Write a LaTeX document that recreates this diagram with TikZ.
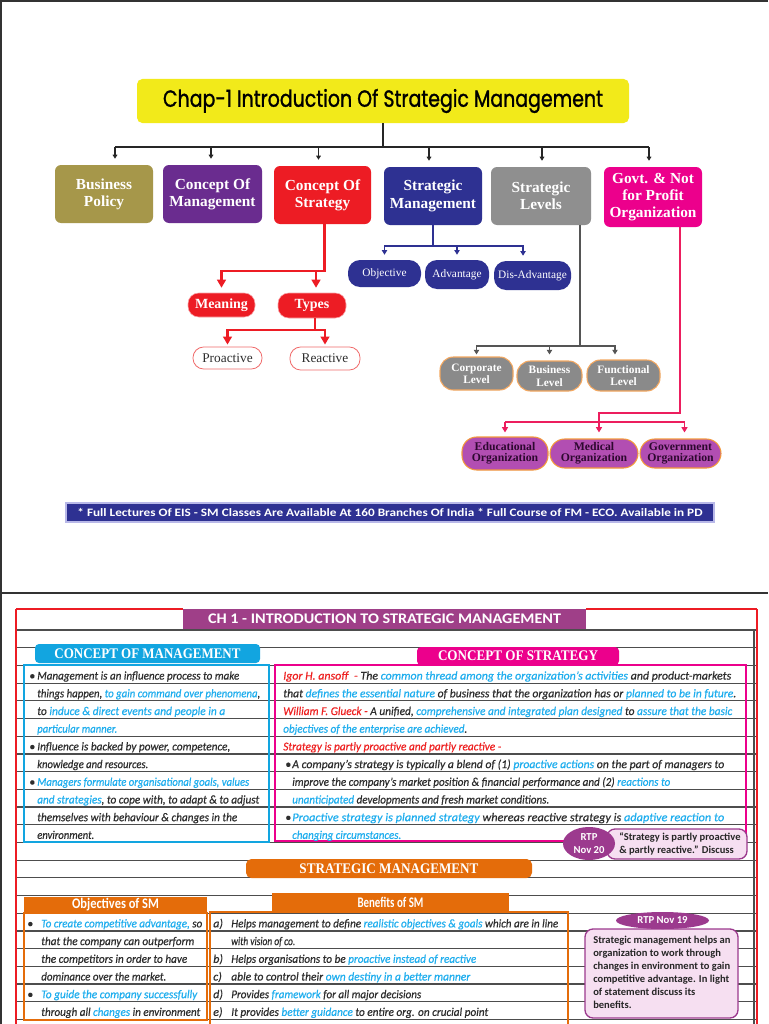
\documentclass[tikz,border=0pt]{standalone}
\usepackage{fontspec}
\usepackage{graphicx}
\usetikzlibrary{arrows.meta,shapes.geometric}
\setmainfont{Liberation Serif}
\newfontfamily\carl{Carlito}
\newfontfamily\carlh{Carlito}[FakeBold=0.6]
\newfontfamily\popf{Poppins}[FakeBold=1.3]
\newlength\pxu \setlength\pxu{0.75pt}
\newcounter{hlc}
\definecolor{cTitle}{HTML}{F2EA1A}
\definecolor{cOlive}{HTML}{A6974A}
\definecolor{cPurp}{HTML}{6A2C8F}
\definecolor{cRed}{HTML}{ED1C24}
\definecolor{cRedL}{HTML}{F06A6A}
\definecolor{cNavy}{HTML}{2E3192}
\definecolor{cGray}{HTML}{8F8F8F}
\definecolor{cGray2}{HTML}{8A8A8A}
\definecolor{cLvB}{HTML}{F4A860}
\definecolor{cMag}{HTML}{EC008C}
\definecolor{cOrg}{HTML}{B24EB2}
\definecolor{cOrgB}{HTML}{F39A3C}
\definecolor{cOrgT}{HTML}{2E0830}
\definecolor{cLine}{HTML}{555555}
\definecolor{cPink}{HTML}{EC1E5E}
\definecolor{cLav}{HTML}{B8B8E8}
\definecolor{cFrame}{HTML}{333333}
\definecolor{cHead}{HTML}{9F3F88}
\definecolor{cCyan}{HTML}{12A5E0}
\definecolor{cOr}{HTML}{E46C0A}
\definecolor{cRtp}{HTML}{9C3A8E}
\definecolor{cRtpF}{HTML}{F6DFF1}
\definecolor{tBlue}{HTML}{1FAEEE}
\definecolor{tRed}{HTML}{EE2222}
\definecolor{tDark}{HTML}{2E2E2E}
\definecolor{cRule}{HTML}{4D4D4D}
\newcommand\hwf{\carlh\itshape\fontsize{8.9}{10}\selectfont}
\newcommand\cB[1]{\textcolor{tBlue}{#1}}
\newcommand\cR[1]{\textcolor{tRed}{#1}}
\newcommand\pbx[7]{\node[#6, minimum width={(#4-#2)*0.75pt}, minimum height={(#5-#3)*0.75pt}] (#1) at ({(#2+#4)/2},{(#3+#5)/2}) {#7};}
\newcommand\hwl[4]{\stepcounter{hlc}\node[anchor=base west, inner sep=0pt, font=\hwf, text=tDark] (hl\arabic{hlc}) at (#1,{630+17.7*#2-3.5}) {\resizebox{#3\pxu}{\height}{#4}};}
\newcommand\htx[3]{\stepcounter{hlc}\node[anchor=base west, inner sep=0pt, font=\hwf, text=tDark] (hl\arabic{hlc}) at (#1,{630+17.7*#2-3.5}) {#3};}
\begin{document}
\begin{tikzpicture}[x=0.75pt,y=-0.75pt,
 rowbox/.style={rounded corners=4.5pt, inner sep=0pt, align=center, text=white, font=\fontsize{11.5}{13}\selectfont\bfseries},
 titlebox/.style={rounded corners=4pt, fill=cTitle, inner sep=0pt},
 navpill/.style={rounded corners=9pt, fill=cNavy, text=white, inner sep=0pt, font=\fontsize{8.5}{10}\selectfont},
 redpill/.style={rounded corners=8pt, fill=cRed, draw=cRed!40, text=white, inner sep=0pt, font=\fontsize{10.5}{12}\selectfont\bfseries},
 wpill/.style={rounded corners=8pt, fill=white, draw=cRedL, line width=0.6pt, text=tDark, inner sep=0pt, font=\fontsize{10}{12}\selectfont},
 lvpill/.style={rounded corners=10pt, fill=cGray2, draw=cLvB, line width=0.8pt, text=white, inner sep=0pt, align=center, font=\fontsize{8.5}{9.2}\selectfont\bfseries},
 orgpill/.style={rounded corners=11pt, fill=cOrg, draw=cOrgB, line width=0.8pt, text=cOrgT, inner sep=0pt, align=center, font=\fontsize{8.8}{8}\selectfont\bfseries},
 blk/.style={line width=1.2pt, draw=black!85},
 blkA/.style={blk, -{Triangle[width=3.5pt,length=3pt]}},
 redl/.style={line width=2pt, draw=cRed},
 redA/.style={redl, -{Triangle[width=6.5pt,length=6pt]}},
 navl/.style={line width=1.3pt, draw=cNavy},
 navA/.style={navl, -{Triangle[width=4pt,length=3.5pt]}},
 grl/.style={line width=1pt, draw=cLine},
 grA/.style={grl, -{Triangle[width=4pt,length=3.5pt]}},
 pkl/.style={line width=2pt, draw=cPink},
 pkt/.style={line width=1pt, draw=cPink},
 pkA/.style={pkt, -{Triangle[width=4.5pt,length=4pt]}},
 frame/.style={line width=1.6pt, draw=cFrame},
 rule/.style={line width=0.9pt, draw=cRule},
 tab/.style={rounded corners=3pt, inner sep=0pt, text=white, font=\fontsize{11}{12}\selectfont\bfseries},
 hdr/.style={inner sep=0pt, text=white, font=\carl\fontsize{10}{12}\selectfont\bfseries},
 rtpbox/.style={rounded corners=6pt, fill=cRtpF, draw=cRtp, line width=1pt, inner sep=0pt},
 rtpell/.style={ellipse, fill=cRtp, text=white, inner sep=0pt, align=center, font=\carl\fontsize{8}{9.5}\selectfont\bfseries},
 rtptxt/.style={inner sep=0pt, align=left, text=black!85, font=\carl\fontsize{7.9}{9.75}\selectfont\bfseries}
]
\useasboundingbox (0,0) rectangle (768,1024);
\clip (0,0) rectangle (768,1024);
\fill[white] (0,0) rectangle (768,1024);

% ---------- top page frame ----------
\draw[frame] (1,0) -- (1,1024);
\draw[frame] (0,1) -- (768,1);
\draw[frame, line width=2pt] (0,593) -- (768,593);

% ---------- top mind map ----------
\pbx{T}{137}{79}{629}{123}{titlebox}{\resizebox{440\pxu}{\height}{\popf\fontsize{17.5}{20}\selectfont Chap-1 Introduction Of Strategic Management}}

\pbx{bp}{55}{165}{153}{223}{rowbox, fill=cOlive}{Business\\Policy}
\pbx{cm}{163}{165}{262}{223}{rowbox, fill=cPurp}{Concept Of\\Management}
\pbx{cs}{274}{166}{371}{224}{rowbox, fill=cRed}{Concept Of\\Strategy}
\pbx{sm}{384}{167}{482}{225}{rowbox, fill=cNavy}{Strategic\\Management}
\pbx{sl}{491}{167}{591}{225}{rowbox, fill=cGray}{Strategic\\Levels}
\pbx{gv}{604}{167}{702}{227}{rowbox, fill=cMag}{Govt. \& Not\\for Profit\\Organization}

\pbx{mn}{188}{293}{255}{317}{redpill}{Meaning}
\pbx{ty}{278}{293}{346}{318}{redpill}{Types}
\pbx{pr}{193}{347}{262}{369}{wpill}{Proactive}
\pbx{re}{290}{347}{360}{370}{wpill}{Reactive}
\pbx{ob}{348}{260}{421}{287}{navpill}{Objective}
\pbx{ad}{425}{260}{489}{289}{navpill}{Advantage}
\pbx{da}{494}{261}{571}{290}{navpill}{Dis-Advantage}
\pbx{co}{440}{357}{513}{390}{lvpill}{Corporate\\Level}
\pbx{bu}{517}{361}{582}{391}{lvpill}{Business\\Level}
\pbx{fu}{587}{360}{660}{391}{lvpill}{Functional\\Level}
\pbx{ed}{462}{437}{548}{470}{orgpill}{Educational\\Organization}
\pbx{me}{550}{439}{638}{468}{orgpill}{Medical\\Organization}
\pbx{go}{640}{439}{721}{468}{orgpill}{Government\\Organization}

% title connectors
\coordinate (bar) at (384,147);
\coordinate (barL) at (115,147);
\coordinate (barR) at (649,147);
\draw[blk] (T.south) -- (T.south |- bar);
\draw[blk] (barL) -- (barR);
\foreach \n/\dx in {bp/11,cm/-1.5,cs/-4,sm/-4,sl/1,gv/-4}{
  \coordinate (\n-a) at ([xshift=\dx*0.75pt]\n.north);
  \draw[blkA] (\n-a |- bar) -- ([yshift=4.5pt]\n-a);
}
% concept of strategy
\coordinate (cs-b) at ([xshift=1.5pt]cs.south);
\coordinate (rbar) at (0,271);
\coordinate (ty-a) at ([xshift=3pt]ty.north);
\draw[redA] (cs-b) -- (cs-b |- rbar) -- (mn.north |- rbar) -- ([yshift=3.75pt]mn.north);
\draw[redA] (ty-a |- rbar) -- ([yshift=3.75pt]ty-a);
\coordinate (tbar) at (0,330);
\coordinate (ty-b) at ([xshift=2.25pt]ty.south);
\draw[redA] (ty-b) -- (ty-b |- tbar) -- (pr.north |- tbar) -- ([yshift=1.5pt]pr.north);
\draw[redA] (ty-b |- tbar) -- (re.north |- tbar) -- ([yshift=1.5pt]re.north);
% strategic management
\coordinate (sbar) at (0,246);
\coordinate (da-a) at ([xshift=-7.1pt]da.north);
\draw[navl] (sm.south) -- (sm.south |- sbar);
\draw[navA] (sm.south |- sbar) -- (ob.north |- sbar) -- ([yshift=3.75pt]ob.north);
\draw[navA] (sm.south |- sbar) -- (da-a |- sbar) -- ([yshift=3.75pt]da-a);
\draw[navA] (ad.north |- sbar) -- ([yshift=3.75pt]ad.north);
% strategic levels
\coordinate (gbar) at (0,346);
\coordinate (sl-b) at ([xshift=29.25pt]sl.south);
\coordinate (fu-a) at ([xshift=-6.4pt]fu.north);
\draw[grl] (sl-b) -- (sl-b |- gbar);
\draw[grA] (sl-b |- gbar) -- (co.north |- gbar) -- ([yshift=1.5pt]co.north);
\draw[grA] (sl-b |- gbar) -- (fu-a |- gbar) -- ([yshift=3.75pt]fu-a);
\draw[grA] (bu.north |- gbar) -- ([yshift=4.5pt]bu.north);
% govt
\coordinate (gv-b) at ([xshift=20.25pt]gv.south);
\coordinate (pbar) at (0,413);
\coordinate (pthin) at (0,422);
\coordinate (me-a) at ([xshift=3.75pt]me.north);
\coordinate (go-a) at ([xshift=3pt]go.north);
\draw[pkl] (gv-b) -- (gv-b |- pbar) -- (me-a |- pbar) -- (me-a |- pthin);
\draw[pkt] (ed.north |- pthin) -- (go-a |- pthin);
\draw[pkA] (ed.north |- pthin) -- ([yshift=3pt]ed.north);
\draw[pkA] (me-a |- pthin) -- ([yshift=4.5pt]me-a);
\draw[pkA] (go-a |- pthin) -- ([yshift=4.5pt]go-a);

% footer banner
\pbx{ft}{66}{503}{714}{522}{fill=cNavy, draw=cLav, line width=0.8pt, inner sep=0pt, text=white}{\resizebox{625\pxu}{\height}{\carl\bfseries\fontsize{8.5}{10}\selectfont * Full Lectures Of EIS - SM Classes Are Available At 160 Branches Of India * Full Course of FM - ECO. Available in PD}}

% ---------- bottom page ----------
\foreach \k in {0,...,22}{
  \draw[rule] (16,{630+17.7*\k}) -- (756,{630+17.7*\k});
}
\draw[rule] (754,630) -- (754,1024);
\draw[draw=cRed, line width=1pt] (16,609) -- (16,1024);
\draw[draw=cRed, line width=1pt] (757,609) -- (757,1024);
\draw[draw=cRed, line width=1pt] (16,609) -- (183,609);
\draw[draw=cRed, line width=1pt] (586,609) -- (757,609);
\pbx{hd}{183}{609}{586}{629}{hdr, fill=cHead}{\resizebox{353\pxu}{\height}{\fontsize{11}{12}\selectfont CH 1 - INTRODUCTION TO STRATEGIC MANAGEMENT}}

% concept of management
\pbx{tcm}{35}{644}{260}{663}{tab, fill=cCyan}{\resizebox{186\pxu}{\height}{CONCEPT OF MANAGEMENT}}
\pbx{bcm}{24}{665}{269}{842}{draw=cCyan, line width=1.2pt, inner sep=0pt}{}
% concept of strategy
\pbx{tcs}{417}{647}{619}{665}{tab, fill=cMag}{\resizebox{160\pxu}{\height}{CONCEPT OF STRATEGY}}
\pbx{bcs}{275}{665}{746}{841}{draw=cMag, line width=1.5pt, inner sep=0pt}{}

\htx{29}{3}{\textbullet}\hwl{37}{3}{202}{Management is an influence process to make}
\hwl{37}{4}{223}{things happen, \cB{to gain command over phenomena},}
\hwl{37}{5}{188}{to \cB{induce \& direct events and people in a}}
\hwl{37}{6}{80}{\cB{particular manner.}}
\htx{29}{7}{\textbullet}\hwl{37}{7}{193}{Influence is backed by power, competence,}
\hwl{37}{8}{111}{knowledge and resources.}
\htx{29}{9}{\textbullet}\hwl{37}{9}{212}{\cB{Managers formulate organisational goals, values}}
\hwl{37}{10}{222}{\cB{and strategies}, to cope with, to adapt \& to adjust}
\hwl{37}{11}{200}{themselves with behaviour \& changes in the}
\hwl{37}{12}{57}{environment.}

\hwl{283}{3}{448}{\cR{Igor H. ansoff\enspace -} The \cB{common thread among the organization’s activities} and product-markets}
\hwl{283}{4}{453}{that \cB{defines the essential nature} of business that the organization has or \cB{planned to be in future}.}
\hwl{283}{5}{449}{\cR{William F. Glueck -} A unified, \cB{comprehensive and integrated plan designed} to \cB{assure that the basic}}
\hwl{283}{6}{184}{\cB{objectives of the enterprise are achieved}.}
\hwl{283}{7}{218}{\cR{Strategy is partly proactive and partly reactive -}}
\htx{285}{8}{\textbullet}\hwl{292}{8}{432}{A company’s strategy is typically a blend of (1) \cB{proactive actions} on the part of managers to}
\hwl{292}{9}{378}{improve the company’s market position \& financial performance and (2) \cB{reactions to}}
\hwl{292}{10}{257}{\cB{unanticipated} developments and fresh market conditions.}
\htx{285}{11}{\textbullet}\hwl{292}{11}{432}{\cB{Proactive strategy is planned strategy} whereas reactive strategy is \cB{adaptive reaction to}}
\hwl{292}{12}{109}{\cB{changing circumstances.}}

% RTP Nov 20
\pbx{r20b}{607}{829}{747}{859}{rtpbox}{}
\node[rtpell, minimum width=39pt, minimum height=24.75pt] (r20) at (589,843.5) {RTP\\Nov 20};
\node[rtptxt, anchor=west] (r20t) at (619,843.5) {“Strategy is partly proactive\\\& partly reactive.” Discuss};

% strategic management section
\pbx{tsm}{246}{859}{532}{878}{tab, rounded corners=4pt, fill=cOr}{\resizebox{179\pxu}{\height}{STRATEGIC MANAGEMENT}}
\pbx{tob}{24}{897}{207}{913}{hdr, fill=cOr}{\resizebox{87\pxu}{\height}{\fontsize{11}{12}\selectfont Objectives of SM}}
\pbx{bob}{24}{913}{207}{1020}{draw=cOr, line width=1.5pt, inner sep=0pt}{}
\pbx{tbe}{272}{893}{509}{912}{hdr, fill=cOr}{\resizebox{66\pxu}{\height}{\fontsize{11}{12}\selectfont Benefits of SM}}
\pbx{bbe}{210}{912}{568}{1040}{draw=cOr, line width=0.9pt, inner sep=0pt}{}

\htx{27}{17}{\textbullet}\hwl{41}{17}{161}{\cB{To create competitive advantage,} so}
\hwl{41}{18}{153}{that the company can outperform}
\hwl{41}{19}{146}{the competitors in order to have}
\hwl{41}{20}{125}{dominance over the market.}
\htx{27}{21}{\textbullet}\hwl{41}{21}{156}{\cB{To guide the company successfully}}
\hwl{41}{22}{159}{through all \cB{changes} in environment}

\htx{213}{17}{a)}\hwl{231}{17}{327}{Helps management to define \cB{realistic objectives \& goals} which are in line}
\hwl{231}{18}{64}{with vision of co.}
\htx{213}{19}{b)}\hwl{231}{19}{245}{Helps organisations to be \cB{proactive instead of reactive}}
\htx{213}{20}{c)}\hwl{231}{20}{239}{able to control their \cB{own destiny in a better manner}}
\htx{213}{21}{d)}\hwl{231}{21}{190}{Provides \cB{framework} for all major decisions}
\htx{213}{22}{e)}\hwl{231}{22}{257}{It provides \cB{better guidance} to entire org. on crucial point}

% RTP Nov 19
\pbx{r19b}{585}{929}{738}{1018}{rtpbox}{}
\node[rtpell, minimum width=69.75pt, minimum height=12.75pt] (r19) at (662.5,920.5) {RTP Nov 19};
\node[rtptxt, anchor=west] (r19t) at (593,972.5) {Strategic management helps an\\organization to work through\\changes in environment to gain\\competitive advantage. In light\\of statement discuss its\\benefits.};
\end{tikzpicture}
\end{document}
